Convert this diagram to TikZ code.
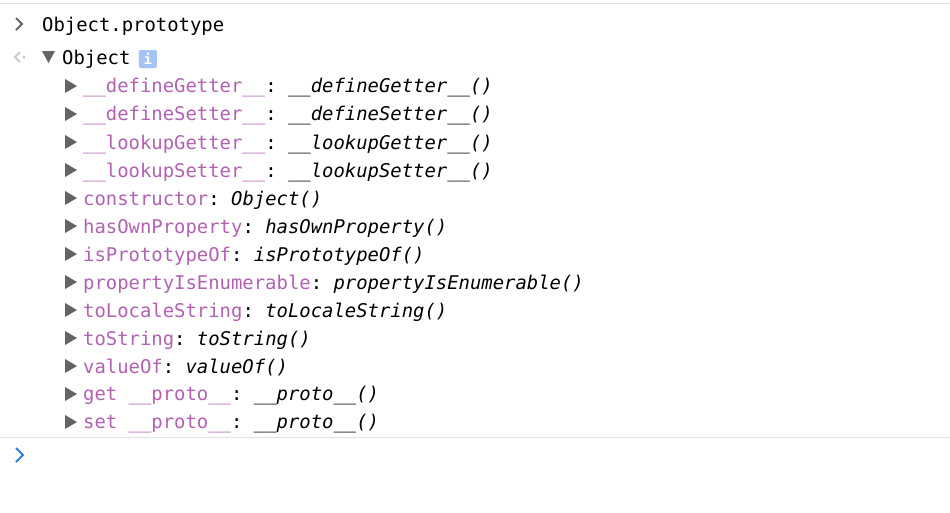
\documentclass[tikz,border=0pt]{standalone}
\usepackage{fontspec}
\setmonofont{DejaVu Sans Mono}
\usetikzlibrary{positioning}
\definecolor{keycol}{RGB}{178,98,178}
\definecolor{arrowcol}{RGB}{100,100,100}
\definecolor{rulecol}{RGB}{225,225,225}
\definecolor{promptblue}{RGB}{52,120,230}
\definecolor{badgecol}{RGB}{165,195,245}
\tikzset{
  row/.style={anchor=west, inner sep=0pt, font=\ttfamily\fontsize{18.9}{20}\selectfont},
  tri/.style={fill=arrowcol}
}
\newcommand{\propline}[2]{\textcolor{keycol}{#1}: \textit{#2}}
\begin{document}
\begin{tikzpicture}[x=1pt, y=-1pt]
\useasboundingbox (0,0) rectangle (950,512);
\fill[white] (0,0) rectangle (950,512);
\draw[rulecol] (0,3) -- (950,3);
\draw[rulecol] (0,437) -- (950,437);

% input line
\draw[arrowcol, line width=1.8pt] (16,18) -- (22,24) -- (16,30);
\node[row] (cmd) at (42,26) {Object.prototype};

% result line
\draw[rulecol!70!gray, line width=1.6pt] (20,52) -- (15,57) -- (20,62);
\fill[rulecol!70!gray] (24,57) circle (1.5pt);
\fill[tri] (42,51) -- (55,51) -- (48.5,63) -- cycle;
\node[row] (obj) at (62,59) {Object};
\node[fill=badgecol, rounded corners=2pt, minimum width=18pt, minimum height=18pt,
      inner sep=0pt, text=white, font=\ttfamily\bfseries\fontsize{14}{14}\selectfont,
      right=8pt of obj] (info) {i};

% properties
\foreach \k/\v [count=\i] in {%
  \_\_defineGetter\_\_/\_\_defineGetter\_\_(),
  \_\_defineSetter\_\_/\_\_defineSetter\_\_(),
  \_\_lookupGetter\_\_/\_\_lookupGetter\_\_(),
  \_\_lookupSetter\_\_/\_\_lookupSetter\_\_(),
  constructor/Object(),
  hasOwnProperty/hasOwnProperty(),
  isPrototypeOf/isPrototypeOf(),
  propertyIsEnumerable/propertyIsEnumerable(),
  toLocaleString/toLocaleString(),
  toString/toString(),
  valueOf/valueOf(),
  get \_\_proto\_\_/\_\_proto\_\_(),
  set \_\_proto\_\_/\_\_proto\_\_()}
{
  \pgfmathsetmacro{\ypos}{58+28*\i}
  \fill[tri] (65,\ypos-7) -- (77,\ypos) -- (65,\ypos+7) -- cycle;
  \node[row] (p\i) at (83,\ypos+2) {\propline{\k}{\v}};
}

% prompt
\draw[promptblue, line width=2pt] (16,448) -- (23,455) -- (16,462);
\end{tikzpicture}
\end{document}
